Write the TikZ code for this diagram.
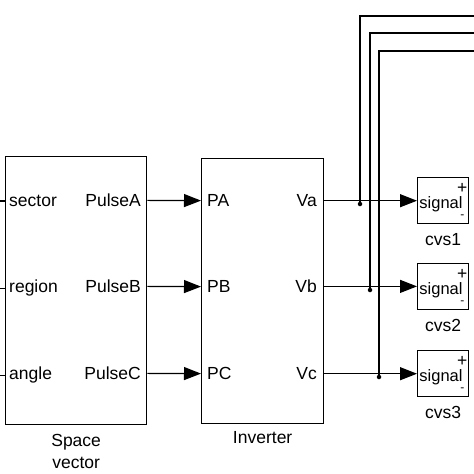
\documentclass[tikz,border=0pt]{standalone}
\usepackage{fontspec}
\setmainfont{Liberation Sans}
\usetikzlibrary{arrows.meta,calc}
\begin{document}
\begin{tikzpicture}[x=1pt,y=-1pt]
\tikzset{
	block/.style={draw,line width=1.3pt,inner sep=0pt,anchor=north west},
	port/.style={font=\fontsize{17.5}{22}\selectfont,inner sep=0pt},
	wire/.style={line width=1.2pt},
	sig/.style={wire,-{Triangle[length=17pt,width=13pt]}},
	dot/.style={circle,fill,inner sep=0pt,minimum size=4.5pt}
}
\useasboundingbox (0,0) rectangle (474,474);
% blocks
\node[block,minimum width=141pt,minimum height=268pt] (sv) at (5,156) {};
\node[block,minimum width=122pt,minimum height=265pt] (inv) at (201,158) {};
\node[block,minimum width=51pt,minimum height=46pt] (cvs1) at (417,177) {};
\node[block,minimum width=51pt,minimum height=46pt] (cvs2) at (417,263) {};
\node[block,minimum width=51pt,minimum height=46pt] (cvs3) at (417,350) {};

% space vector ports
\node[port,anchor=mid west] (sector) at (9,204) {sector};
\node[port,anchor=mid west] (region) at (9,290) {region};
\node[port,anchor=mid west] (angle) at (9,377) {angle};
\node[port,anchor=mid east] (pulseA) at (141,204) {PulseA};
\node[port,anchor=mid east] (pulseB) at (141,290) {PulseB};
\node[port,anchor=mid east] (pulseC) at (141,377) {PulseC};
\node[port,anchor=north,align=center] (svname) at ($(sv.south)+(0,9)$) {Space\\vector};

% inverter ports
\node[port,anchor=mid west] (pA) at (207,204) {PA};
\node[port,anchor=mid west] (pB) at (207,290) {PB};
\node[port,anchor=mid west] (pC) at (207,377) {PC};
\node[port,anchor=mid east] (va) at (317,204) {Va};
\node[port,anchor=mid east] (vb) at (317,290) {Vb};
\node[port,anchor=mid east] (vc) at (317,377) {Vc};
\node[port,anchor=north] (invname) at ($(inv.south)+(0,7)$) {Inverter};

% controlled voltage sources
\node[port,font=\fontsize{16.5}{20}\selectfont] (sig1) at (441,204) {signal};
\node[port,font=\fontsize{16.5}{20}\selectfont] (sig2) at (441,290) {signal};
\node[port,font=\fontsize{16.5}{20}\selectfont] (sig3) at (441,377) {signal};
\node[port] (plus1) at ($(cvs1.north east)+(-7,11)$) {+};
\node[port] (plus2) at ($(cvs2.north east)+(-7,11)$) {+};
\node[port] (plus3) at ($(cvs3.north east)+(-7,11)$) {+};
\node[port,font=\fontsize{12}{14}\selectfont] (minus1) at ($(cvs1.north east)+(-7,40)$) {-};
\node[port,font=\fontsize{12}{14}\selectfont] (minus2) at ($(cvs2.north east)+(-7,40)$) {-};
\node[port,font=\fontsize{12}{14}\selectfont] (minus3) at ($(cvs3.north east)+(-7,40)$) {-};
\node[port,anchor=north] (name1) at ($(cvs1.south)+(0,9)$) {cvs1};
\node[port,anchor=north] (name2) at ($(cvs2.south)+(0,9)$) {cvs2};
\node[port,anchor=north] (name3) at ($(cvs3.south)+(0,9)$) {cvs3};

% input stubs
\draw[wire] (sv.west |- sector) -- ++(-5,0);
\draw[wire] (sv.west |- region) -- ++(-5,0);
\draw[wire] (sv.west |- angle) -- ++(-5,0);

% pulses
\draw[sig] (sv.east |- pulseA) -- (inv.west |- pA);
\draw[sig] (sv.east |- pulseB) -- (inv.west |- pB);
\draw[sig] (sv.east |- pulseC) -- (inv.west |- pC);

% phase voltages
\draw[sig] (inv.east |- va) -- (cvs1.west |- va);
\draw[sig] (inv.east |- vb) -- (cvs2.west |- vb);
\draw[sig] (inv.east |- vc) -- (cvs3.west |- vc);

% branches
\node[dot] (ja) at (360,204) {};
\node[dot] (jb) at (370,290) {};
\node[dot] (jc) at (379,377) {};
\coordinate (outA) at (474,16);
\coordinate (outB) at (474,33);
\coordinate (outC) at (474,51);
\draw[wire] (ja.center) |- (outA);
\draw[wire] (jb.center) |- (outB);
\draw[wire] (jc.center) |- (outC);
\end{tikzpicture}
\end{document}
